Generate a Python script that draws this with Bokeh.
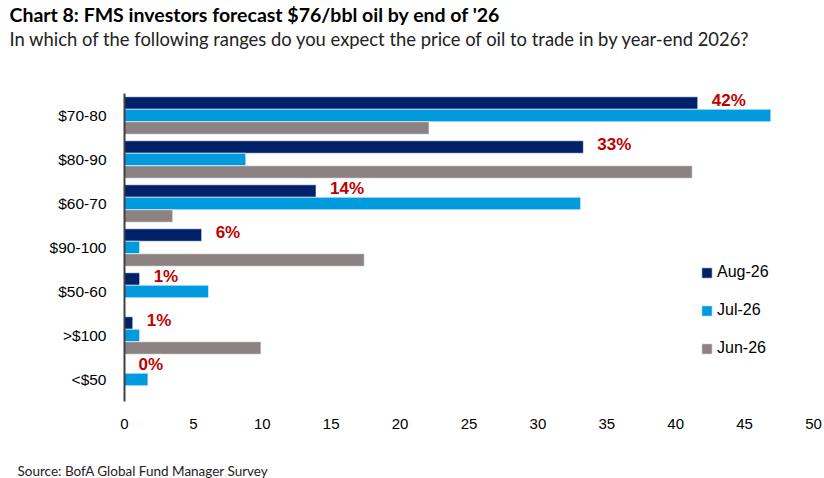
from bokeh.plotting import figure
from bokeh.models import (FactorRange, Range1d, Legend, LegendItem,
                          ColumnDataSource, FixedTicker, Title)
from bokeh.transform import dodge
from bokeh.core.properties import value
from bokeh.embed import file_html
from bokeh.resources import INLINE

categories = ["$70-80", "$80-90", "$60-70", "$90-100", "$50-60", ">$100", "<$50"]
aug = [41.6, 33.3, 13.9, 5.6, 1.1, 0.6, 0.0]
jul = [46.9, 8.8, 33.1, 1.1, 6.1, 1.1, 1.7]
jun = [22.1, 41.2, 3.5, 17.4, 0.0, 9.9, 0.0]
aug_labels = ["42%", "33%", "14%", "6%", "1%", "1%", "0%"]
series_names = ["Aug-26", "Jul-26", "Jun-26"]
x_ticks = [0, 5, 10, 15, 20, 25, 30, 35, 40, 45, 50]

title_text = "Chart 8: FMS investors forecast $76/bbl oil by end of '26"
subtitle_text = "In which of the following ranges do you expect the price of oil to trade in by year-end 2026?"
source_text = "Source: BofA Global Fund Manager Survey"

NAVY = "#012169"
BLUE = "#009ADE"
GREY = "#8C8283"
RED = "#C00000"
HEAD = "Lato"
ARIAL = "Liberation Sans"

src = ColumnDataSource(dict(cat=categories, aug=aug, jul=jul, jun=jun, lab=aug_labels))

p = figure(width=824, height=478,
           y_range=FactorRange(factors=categories[::-1]),
           x_range=Range1d(0, 50),
           output_backend="svg", toolbar_location=None,
           min_border_left=124, min_border_right=11,
           min_border_top=93, min_border_bottom=76)
p.outline_line_color = None
p.xgrid.grid_line_color = None
p.ygrid.grid_line_color = None
p.background_fill_color = "white"
p.border_fill_color = "white"

bh = 0.284
r_aug = p.hbar(y=dodge("cat", bh, range=p.y_range), left=0, right="aug", height=bh,
               source=src, fill_color=NAVY, line_color="white", line_width=0.6)
r_jul = p.hbar(y=dodge("cat", 0, range=p.y_range), left=0, right="jul", height=bh,
               source=src, fill_color=BLUE, line_color="white", line_width=0.6)
r_jun = p.hbar(y=dodge("cat", -bh, range=p.y_range), left=0, right="jun", height=bh,
               source=src, fill_color=GREY, line_color="white", line_width=0.6)

p.text(x="aug", y=dodge("cat", bh, range=p.y_range), text="lab", source=src,
       x_offset=14, y_offset=-3, text_align="left", text_baseline="middle",
       text_font=value(ARIAL), text_font_style="bold", text_font_size="17px",
       text_color=RED)

# axes
p.yaxis.axis_line_color = "#404040"
p.yaxis.axis_line_width = 2
p.yaxis.major_tick_line_color = None
p.yaxis.minor_tick_line_color = None
p.yaxis.major_tick_out = 0
p.yaxis.major_tick_in = 0
p.yaxis.major_label_standoff = 18
p.yaxis.major_label_text_font = ARIAL
p.yaxis.major_label_text_font_size = "15.5px"
p.yaxis.major_label_text_color = "#000000"

p.xaxis.ticker = FixedTicker(ticks=x_ticks)
p.xaxis.axis_line_color = None
p.xaxis.major_tick_line_color = None
p.xaxis.minor_tick_line_color = None
p.xaxis.major_tick_out = 0
p.xaxis.major_tick_in = 0
p.xaxis.major_label_standoff = 17
p.xaxis.major_label_text_font = ARIAL
p.xaxis.major_label_text_font_size = "15px"
p.xaxis.major_label_text_color = "#000000"

legend = Legend(items=[LegendItem(label=series_names[0], renderers=[r_aug]),
                       LegendItem(label=series_names[1], renderers=[r_jul]),
                       LegendItem(label=series_names[2], renderers=[r_jun])],
                location=(576, 44), orientation="vertical",
                glyph_width=13, glyph_height=13, label_standoff=4,
                spacing=20, padding=0, margin=0,
                border_line_color=None, background_fill_alpha=0,
                label_text_font=ARIAL, label_text_font_size="16px",
                label_text_color="#000000")
p.add_layout(legend)

# above: spacer (next to frame), subtitle, then main title (outermost)
p.add_layout(Title(text=" ", standoff=29.5, text_font=HEAD, text_font_size="10px"), "above")
p.add_layout(Title(text=subtitle_text, align="left", offset=-115, standoff=0,
                   text_font=HEAD, text_font_style="normal", text_font_size="18.4px",
                   text_color="#222222"), "above")
p.title.text = title_text
p.title.align = "left"
p.title.offset = -115
p.title.standoff = 0
p.title.text_font = HEAD
p.title.text_font_style = "bold"
p.title.text_font_size = "19.5px"
p.title.text_color = "#000000"

# below: x axis, spacer, then source line
p.add_layout(Title(text=" ", standoff=14.5, text_font=HEAD, text_font_size="10px"), "below")
p.add_layout(Title(text=source_text, align="left", offset=-107, standoff=0,
                   text_font=HEAD, text_font_style="normal", text_font_size="13.5px",
                   text_color="#222222"), "below")

open("out.html", "w").write(file_html(p, INLINE))
